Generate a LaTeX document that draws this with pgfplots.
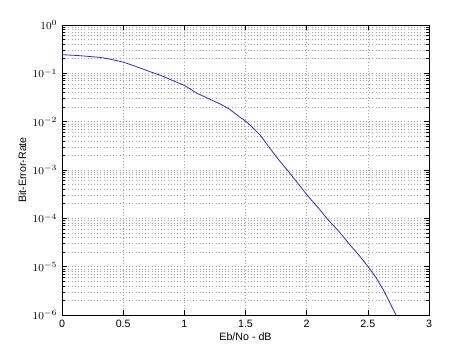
\documentclass[border=0pt]{standalone}
\usepackage{fontspec}
\setmainfont{Liberation Sans}
\usepackage{pgfplots}
\pgfplotsset{compat=1.18}
\begin{document}
\begin{tikzpicture}
\begin{semilogyaxis}[
  scale only axis,
  width=275.25pt, height=217.5pt,
  xmin=0, xmax=3, ymin=1e-6, ymax=1,
  xtick={0,0.5,1,1.5,2,2.5,3},
  xticklabels={0,0.5,1,1.5,2,2.5,3},
  ytick={1e-6,1e-5,1e-4,1e-3,1e-2,1e-1,1},
  tick align=inside,
  xtick pos=both, ytick pos=both,
  major tick length=4pt, minor tick length=2pt,
  grid=both,
  major grid style={dotted, gray!70, line width=0.5pt},
  minor grid style={dotted, gray!70, line width=0.5pt},
  minor x tick num=0,
  axis line style={line width=0.7pt},
  tick style={black, line width=0.5pt},
  ticklabel style={font=\fontsize{8}{9}\selectfont},
  label style={font=\fontsize{8}{9}\selectfont},
  xlabel={Eb/No - dB},
  ylabel={Bit-Error-Rate},
  xlabel style={yshift=3pt},
  ylabel style={yshift=-2pt},
]
\addplot[color={rgb,255:red,40;green,40;blue,220}, line width=0.6pt] coordinates {
(0,0.243) (0.1,0.236) (0.2,0.226) (0.31,0.214) (0.4,0.195) (0.5,0.171)
(0.6,0.14) (0.72,0.108) (0.8,0.092) (0.9,0.072) (1.0,0.0565)
(1.05,0.047) (1.1,0.039) (1.2,0.0298) (1.3,0.0228) (1.374,0.0178)
(1.45,0.0126) (1.5,0.0103) (1.537,0.0085) (1.62,0.0053) (1.70,0.0028)
(1.769,0.00166) (1.864,8.5e-4) (1.95,4.5e-4) (2.014,2.8e-4) (2.1,1.6e-4)
(2.164,1.0e-4) (2.26,5.5e-5) (2.355,2.8e-5) (2.43,1.7e-5) (2.505,9.8e-6)
(2.57,5.8e-6) (2.627,3.3e-6) (2.68,1.8e-6) (2.73,1.0e-6)
};
\end{semilogyaxis}
\pgfresetboundingbox
\path ([shift={(-46.5pt,-30pt)}]current axis.south west) rectangle ([shift={(33.75pt,18.75pt)}]current axis.north east);
\end{tikzpicture}
\end{document}
